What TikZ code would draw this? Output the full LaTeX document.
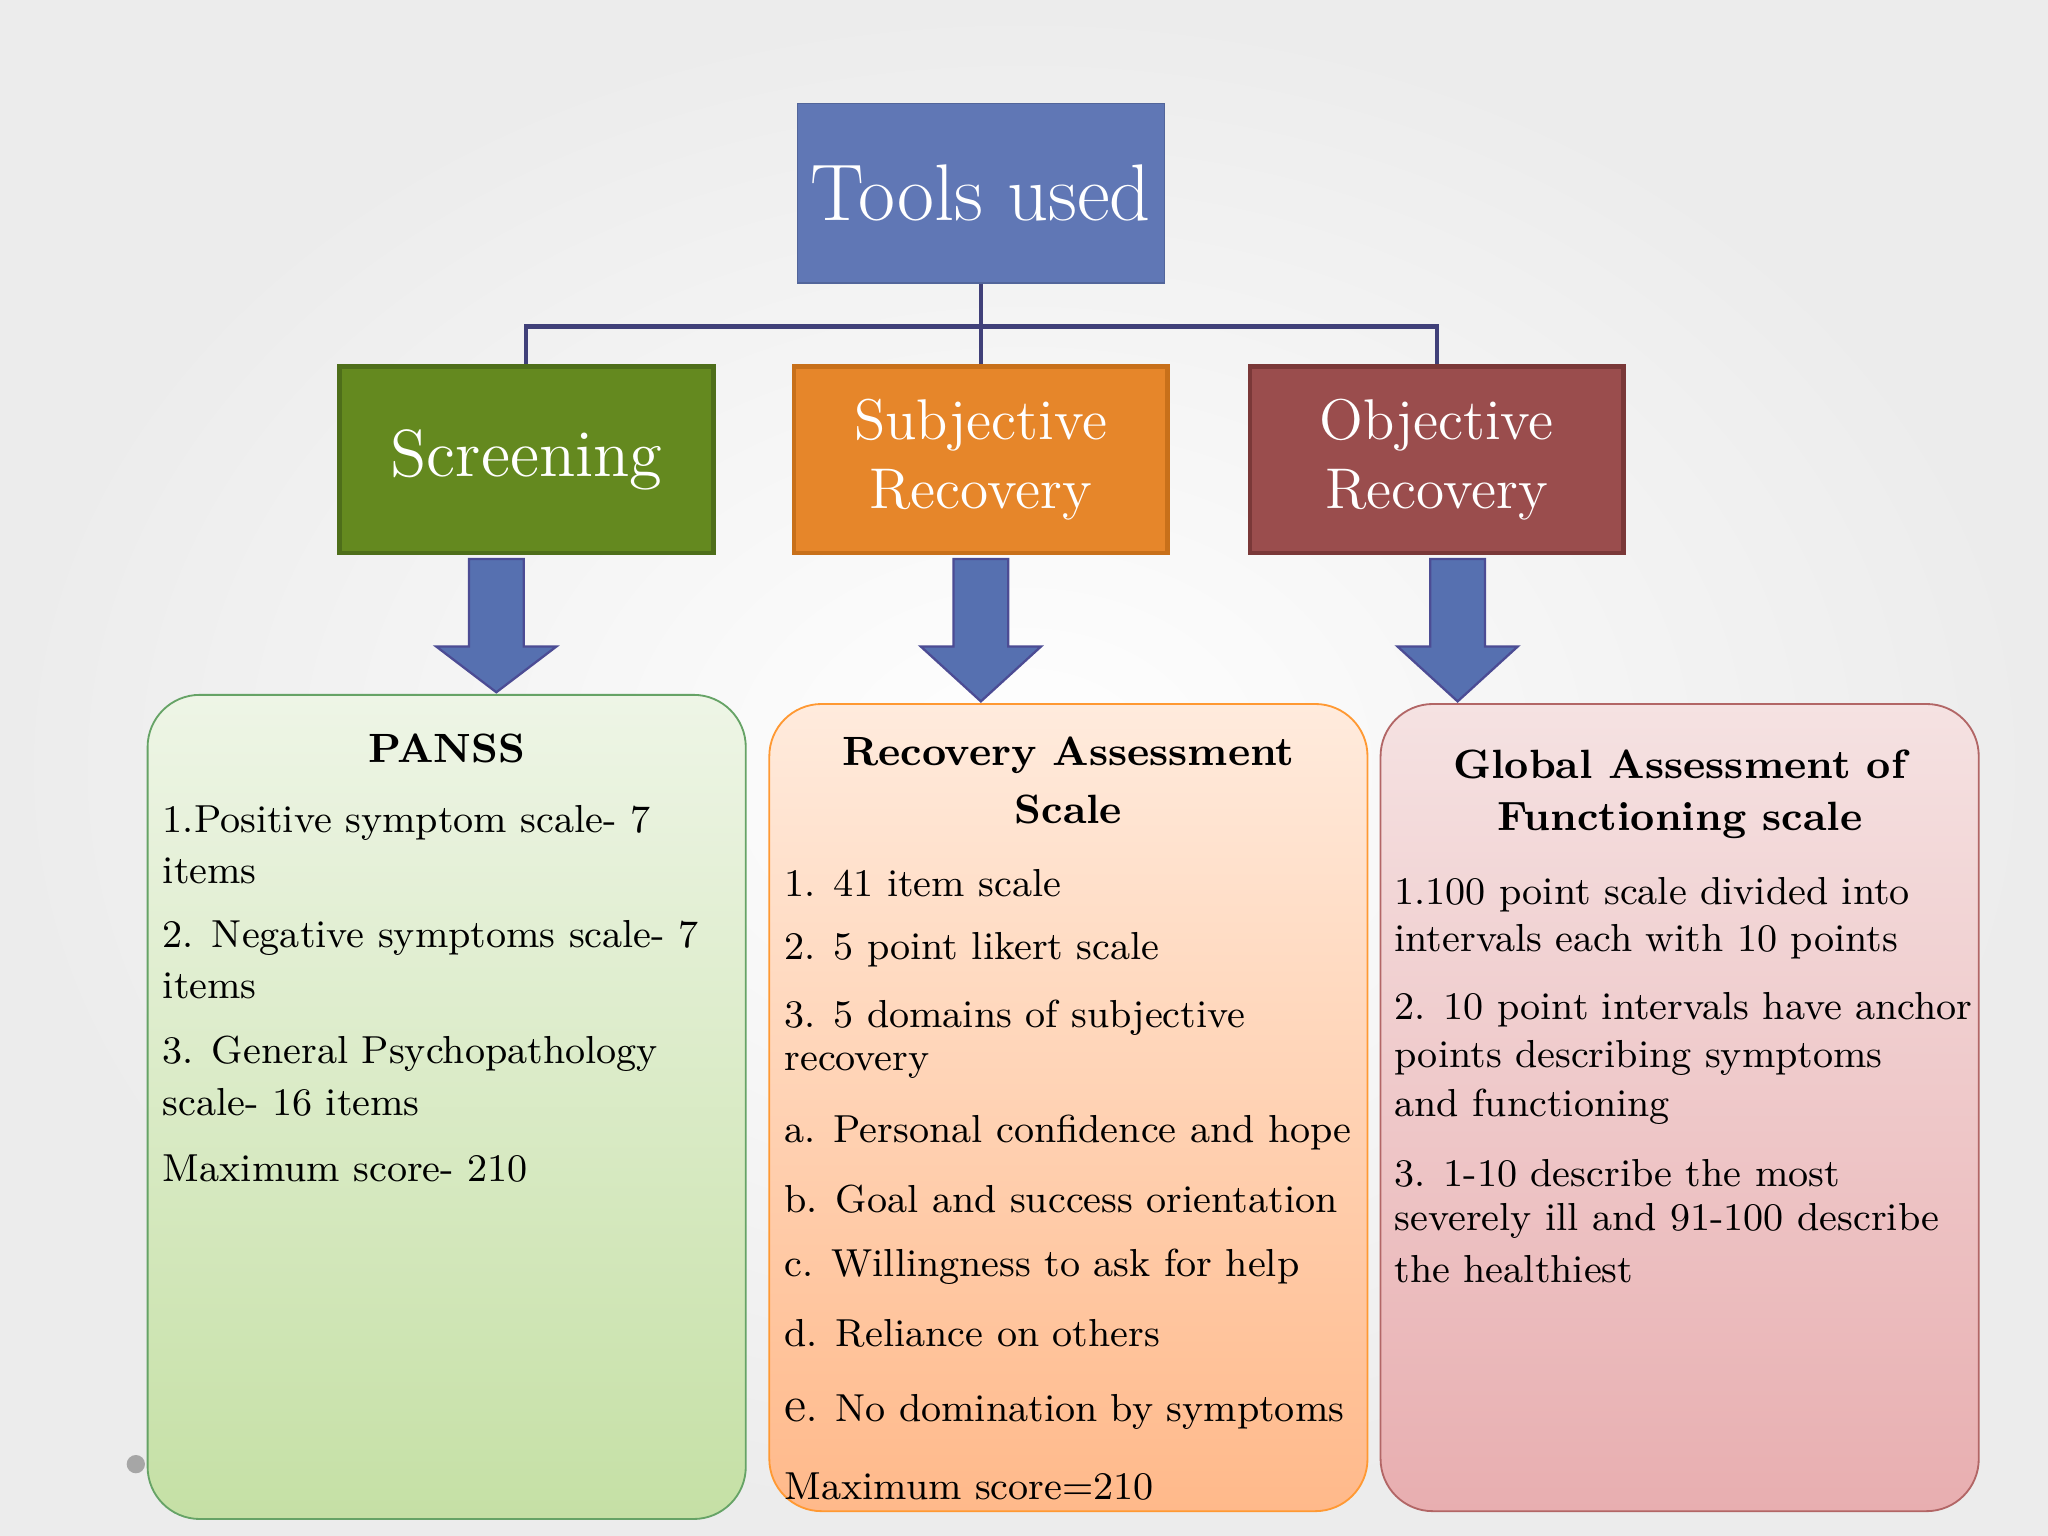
\documentclass[tikz,border=0pt]{standalone}
\usetikzlibrary{shapes.arrows}
\begin{document}
\begin{tikzpicture}[x=0.01cm,y=-0.01cm,
  hdr/.style={draw,line width=1pt,minimum width=2.86cm,minimum height=1.43cm,inner sep=0,text=white,align=center,font=\fontsize{14.5}{17}\selectfont},
  conn/.style={draw=blue!30!black!75,line width=0.9pt},
  barrow/.style={fill=tbb,draw=blue!40!black!70,line width=0.5pt},
  tl/.style={anchor=west,inner sep=0,font=\fontsize{8.5}{10}\selectfont},
  tt/.style={anchor=center,inner sep=0,font=\bfseries\fontsize{8.9}{11}\selectfont}]
\definecolor{tb}{HTML}{6077B5}\definecolor{tbb}{HTML}{5670B0}
\definecolor{scr}{HTML}{64891F}\definecolor{scrb}{HTML}{4E6E1A}
\definecolor{sub}{HTML}{E6862A}\definecolor{subb}{HTML}{C8701A}
\definecolor{obj}{HTML}{9A4D4D}\definecolor{objb}{HTML}{7A3838}
\definecolor{gtop}{HTML}{EEF5E6}\definecolor{gbot}{HTML}{C5E0A5}
\definecolor{otop}{HTML}{FFEBDD}\definecolor{obot}{HTML}{FFB98A}
\definecolor{rtop}{HTML}{F5E2E2}\definecolor{rbot}{HTML}{E8AEB0}
\useasboundingbox (0,0) rectangle (1568,1176);
\shade[inner color=white,outer color=gray!15] (0,0) rectangle (1568,1176);
\node[fill=tb,draw=tb!85!black,line width=0.3pt,minimum width=2.81cm,minimum height=1.37cm,inner sep=0,text=white,font=\fontsize{17.5}{20}\selectfont] (tools) at (751,148) {Tools used};
\node[hdr,fill=scr,draw=scrb] (scr) at (403,352) {Screening};
\node[hdr,fill=sub,draw=subb,font=\fontsize{12.5}{15}\selectfont] (sub) at (751,352) {Subjective\\Recovery};
\node[hdr,fill=obj,draw=objb,font=\fontsize{12.5}{15}\selectfont] (obj) at (1100,352) {Objective\\Recovery};
\coordinate (j) at (751,250);
\draw[conn] (tools.south) -- (j) -- (sub.north);
\draw[conn] (j) -- (403,250) -- (scr.north);
\draw[conn] (j) -- (1100,250) -- (obj.north);
\foreach \c/\t in {380/530,751/537,1116/537}{
 \draw[barrow] (\c-21,428) -- (\c+21,428) -- (\c+21,495) -- (\c+46,495) -- (\c,\t) -- (\c-46,495) -- (\c-21,495) -- cycle;}
\draw[rounded corners=0.4cm,draw=green!40!black!60,line width=0.4pt,top color=gtop,bottom color=gbot] (113,532) rectangle (571,1163);
\fill[gray!70] (104,1121) circle (0.07cm);
\draw[rounded corners=0.4cm,draw=orange!80,line width=0.4pt,top color=otop,bottom color=obot] (589,539) rectangle (1047,1157);
\draw[rounded corners=0.4cm,draw=red!50!black!60,line width=0.4pt,top color=rtop,bottom color=rbot] (1057,539) rectangle (1515,1157);
\node[tt] (p0) at (342,573) {PANSS};
\node[tl] (p1) at (124,630) {1.Positive symptom scale- 7};
\node[tl] (p2) at (124,667) {items};
\node[tl] (p3) at (124,718) {2. Negative symptoms scale- 7};
\node[tl] (p4) at (124,755) {items};
\node[tl] (p5) at (124,807) {3. General Psychopathology};
\node[tl] (p6) at (124,844) {scale- 16 items};
\node[tl] (p7) at (124,895) {Maximum score- 210};
\node[tt] (r0) at (818,578) {Recovery Assessment};
\node[tt] (r00) at (818,620) {Scale};
\node[tl] (r1) at (600,676) {1. 41 item scale};
\node[tl] (r2) at (600,727) {2. 5 point likert scale};
\node[tl] (r3) at (600,779) {3. 5 domains of subjective};
\node[tl] (r4) at (600,816) {recovery};
\node[tl] (r5) at (600,867) {a. Personal confidence and hope};
\node[tl] (r6) at (600,918) {b. Goal and success orientation};
\node[tl] (r7) at (600,970) {c. Willingness to ask for help};
\node[tl] (r8) at (600,1021) {d. Reliance on others};
\node[tl] (r9) at (600,1081) {{\fontsize{11}{12}\selectfont e}. No domination by symptoms};
\node[tl] (r10) at (600,1138) {Maximum score=210};
\node[tt] (g0) at (1286,585) {Global Assessment of};
\node[tt] (g00) at (1286,628) {Functioning scale};
\node[tl] (g1) at (1067,685) {1.100 point scale divided into};
\node[tl] (g2) at (1067,721) {intervals each with 10 points};
\node[tl] (g3) at (1067,773) {2. 10 point intervals have anchor};
\node[tl] (g4) at (1067,810) {points describing symptoms};
\node[tl] (g5) at (1067,847) {and functioning};
\node[tl] (g6) at (1067,898) {3. 1-10 describe the most};
\node[tl] (g7) at (1067,935) {severely ill and 91-100 describe};
\node[tl] (g8) at (1067,972) {the healthiest};
\end{tikzpicture}
\end{document}
